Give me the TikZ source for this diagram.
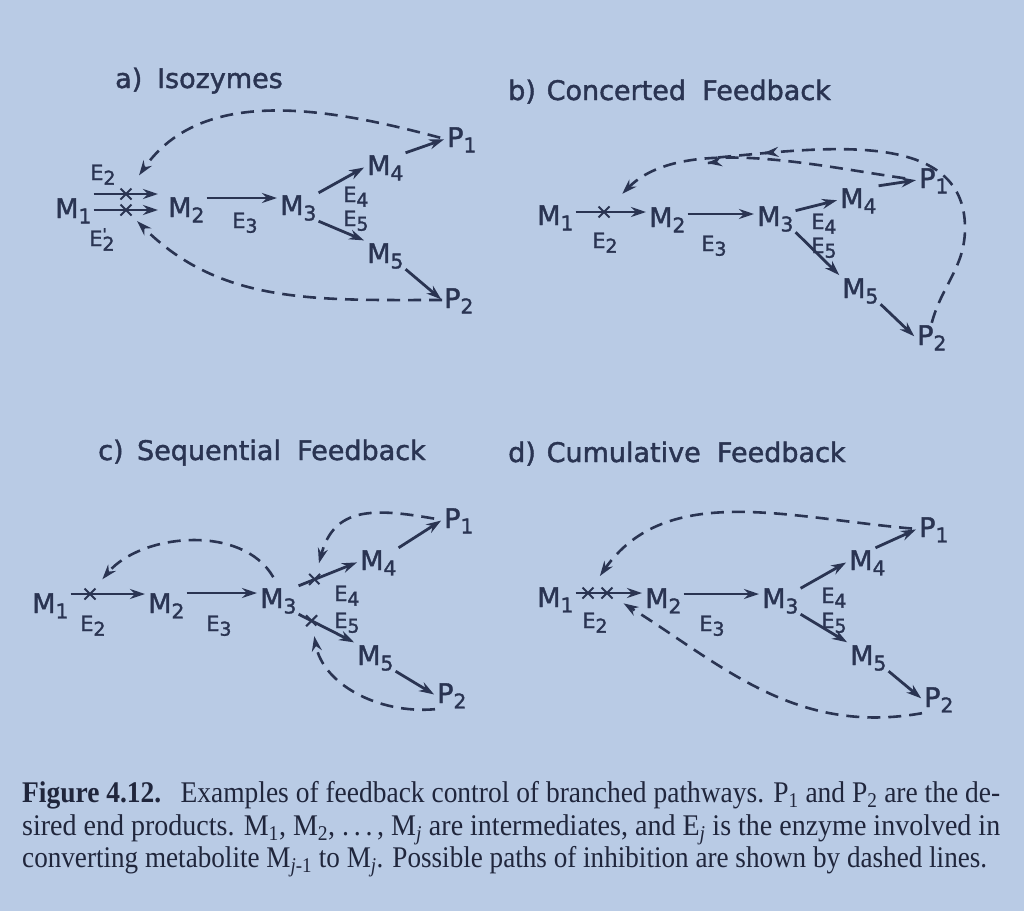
\documentclass[tikz,border=0pt]{standalone}
\usepackage{fontspec}
\usepackage{graphicx}
\setmainfont{Liberation Serif}
\newfontfamily\lbl[FakeBold=1.6]{DejaVu Sans}
\usetikzlibrary{arrows.meta,shapes.misc,decorations.markings}
\definecolor{paper}{RGB}{185,203,229}
\definecolor{ink}{RGB}{42,52,82}
\definecolor{capink}{RGB}{32,38,60}
\newcommand\lo[1]{\raisebox{-.2em}{\scalebox{.75}{#1}}}
\newcommand\elo[1]{\raisebox{-.22em}{\scalebox{.9}{#1}}}
\begin{document}
\begin{tikzpicture}[x=1pt,y=1pt,every node/.style={text=ink},
	met/.style={font=\lbl\fontsize{27}{27}\selectfont,inner sep=2pt,text height=20pt,text depth=4pt,anchor=base west},
	enz/.style={font=\lbl\fontsize{21}{21}\selectfont,inner sep=0pt,anchor=base west},
	ttl/.style={font=\lbl\fontsize{27}{27}\selectfont,inner sep=0pt,anchor=base west},
	captxt/.style={font=\fontsize{30}{30}\selectfont,text=capink,inner sep=0pt,anchor=base west},
	arr/.style={draw=ink,line width=2.8pt,-{Stealth[length=15pt,width=10pt]},shorten >=1pt},
	fb/.style={draw=ink,line width=2.6pt,dash pattern=on 13pt off 8pt,-{Stealth[length=15pt,width=10pt]}},
	xm/.style={cross out,draw=ink,line width=2pt,minimum size=9pt,inner sep=0pt},
	midarr/.style={postaction={decorate},decoration={markings,mark=at position #1 with {\draw[ink,solid,line width=2.6pt,shorten >=0pt,shorten <=0pt,-{Stealth[length=15pt,width=10pt]}] (-1pt,0) -- (0pt,0);}}}]
\fill[paper] (0,0) rectangle (1024,-911);
\useasboundingbox (0,0) rectangle (1024,-911);

% a) isozymes
\node[ttl] (aT) at (115,-88) {a)\hspace{.55em}Isozymes};
\node[met] (aM1) at (53,-218) {M\lo{1}};
\node[met] (aM2) at (166,-217) {M\lo{2}};
\node[met] (aM3) at (278,-215) {M\lo{3}};
\node[met] (aM4) at (365,-175) {M\lo{4}};
\node[met] (aM5) at (365,-263) {M\lo{5}};
\node[met] (aP1) at (445,-147) {P\lo{1}};
\node[met] (aP2) at (442,-308) {P\lo{2}};
\node[enz] (aE2) at (90,-180) {E\elo{2}};
\node[enz] (aE2b) at (89,-246) {E\rlap{\raisebox{.3em}{\scalebox{.75}{\textquotesingle}}}\elo{2}};
\node[enz] (aE3) at (232,-228) {E\elo{3}};
\node[enz] (aE4) at (343,-202) {E\elo{4}};
\node[enz] (aE5) at (343,-226) {E\elo{5}};
\node[xm] (aX1) at (126,-194) {};
\node[xm] (aX2) at (126,-210) {};
\draw[arr,shorten >=8pt] (aM1.east |- aX1) -- (aM2.west |- aX1);
\draw[arr,shorten >=8pt] (aM1.east |- aX2) -- (aM2.west |- aX2);
\draw[arr] ([yshift=11pt]aM2.east) -- ([yshift=11pt]aM2.east -| aM3.west);
\draw[arr] (aM3.north east) -- (aM4.west);
\draw[arr] (aM3.south east) -- (aM5.north west);
\draw[arr] (aM4.north east) -- (aP1.west);
\draw[arr] (aM5.south east) -- (aP2.west);
\draw[fb,shorten <=5pt,shorten >=16pt] (aP1.west) to[out=165,in=55] (aX1);
\draw[fb,shorten >=8pt] (aP2.west) to[out=180,in=-45] (aX2);

% b) concerted
\node[ttl] (bT) at (508,-100) {b)\hspace{.4em}Concerted\hspace{.6em}Feedback};
\node[met] (bM1) at (535,-225) {M\lo{1}};
\node[met] (bM2) at (647,-227) {M\lo{2}};
\node[met] (bM3) at (755,-226) {M\lo{3}};
\node[met] (bM4) at (838,-208) {M\lo{4}};
\node[met] (bM5) at (840,-298) {M\lo{5}};
\node[met] (bP1) at (917,-188) {P\lo{1}};
\node[met] (bP2) at (915,-345) {P\lo{2}};
\node[enz] (bE2) at (592,-248) {E\elo{2}};
\node[enz] (bE3) at (701,-251) {E\elo{3}};
\node[enz] (bE4) at (811,-229) {E\elo{4}};
\node[enz] (bE5) at (811,-253) {E\elo{5}};
\node[xm] (bX) at (604,-212) {};
\coordinate (bC) at (965,-228);
\coordinate (bJ) at (712,-158);
\draw[arr] (bM1.east |- bX) -- (bM2.west |- bX);
\draw[arr] ([yshift=5pt]bM2.east) -- ([yshift=5pt]bM2.east -| bM3.west);
\draw[arr] (bM3.20) -- (bM4.west);
\draw[arr] (bM3.south east) -- (bM5.north west);
\draw[arr] (bM4.north east) -- (bP1.west);
\draw[arr] (bM5.south east) -- (bP2.west);
\draw[fb,midarr=.66,shorten <=12pt,shorten >=18pt] (bP1.west) to[out=172,in=45,looseness=.85] (bX);
\draw[fb,-,midarr=.87] (bP2.north) to[out=75,in=-90] (bC) to[out=90,in=5] (bJ);

% c) sequential
\node[ttl] (cT) at (98,-460) {c)\hspace{.5em}Sequential\hspace{.6em}Feedback};
\node[met] (cM1) at (30,-613) {M\lo{1}};
\node[met] (cM2) at (146,-613) {M\lo{2}};
\node[met] (cM3) at (258,-608) {M\lo{3}};
\node[met] (cM4) at (358,-570) {M\lo{4}};
\node[met] (cM5) at (355,-665) {M\lo{5}};
\node[met] (cP1) at (442,-528) {P\lo{1}};
\node[met] (cP2) at (435,-703) {P\lo{2}};
\node[enz] (cE2) at (80,-631) {E\elo{2}};
\node[enz] (cE3) at (206,-631) {E\elo{3}};
\node[enz] (cE4) at (334,-601) {E\elo{4}};
\node[enz] (cE5) at (334,-628) {E\elo{5}};
\node[xm] (cX1) at (90,-594) {};
\draw[arr] (cM1.east |- cX1) -- (cM2.west |- cX1);
\draw[arr] ([yshift=12pt]cM2.east) -- ([yshift=12pt]cM2.east -| cM3.west);
\draw[arr] (cM3.north east) -- node[xm,pos=.27] (cX2) {} (cM4.west);
\draw[arr] (cM3.south east) -- node[xm,pos=.23] (cX3) {} (cM5.north west);
\draw[arr] (cM4.north east) -- (cP1.west);
\draw[arr] (cM5.south east) -- (cP2.west);
\draw[fb,shorten <=10pt,shorten >=12pt] (cM3.north) to[out=120,in=50] (cX1);
\draw[fb,shorten <=8pt,shorten >=11pt] (cP1.west) to[out=170,in=75,looseness=1.3] (cX2);
\draw[fb,shorten >=10pt] (cP2.south west) to[out=185,in=-80] (cX3);

% d) cumulative
\node[ttl] (dT) at (508,-462) {d)\hspace{.4em}Cumulative\hspace{.6em}Feedback};
\node[met] (dM1) at (535,-607) {M\lo{1}};
\node[met] (dM2) at (643,-608) {M\lo{2}};
\node[met] (dM3) at (760,-608) {M\lo{3}};
\node[met] (dM4) at (847,-570) {M\lo{4}};
\node[met] (dM5) at (848,-665) {M\lo{5}};
\node[met] (dP1) at (917,-537) {P\lo{1}};
\node[met] (dP2) at (922,-707) {P\lo{2}};
\node[enz] (dE2) at (582,-628) {E\elo{2}};
\node[enz] (dE3) at (699,-631) {E\elo{3}};
\node[enz] (dE4) at (821,-603) {E\elo{4}};
\node[enz] (dE5) at (821,-628) {E\elo{5}};
\node[xm] (dX1) at (588,-593) {};
\node[xm] (dX2) at (607,-593) {};
\draw[arr] (dM1.east |- dX1) -- (dM2.west |- dX1);
\draw[arr] ([yshift=6pt]dM2.east) -- ([yshift=6pt]dM2.east -| dM3.west);
\draw[arr] (dM3.30) -- (dM4.west);
\draw[arr] (dM3.south east) -- (dM5.north west);
\draw[arr] (dM4.60) -- (dP1.west);
\draw[arr] (dM5.south east) -- (dP2.west);
\draw[fb,shorten <=5pt,shorten >=14pt] (dP1.west) to[out=175,in=55] (dX1);
\draw[fb,shorten >=13pt] (dP2.south west) to[out=190,in=-32] (dX2);

% caption
\node[captxt] (cap1) at (22,-802) {\resizebox{978pt}{\height}{\textbf{Figure 4.12.}\hspace{.7em}Examples of feedback control of branched pathways. P\textsubscript{1} and P\textsubscript{2} are the de-}};
\node[captxt] (cap2) at (22,-835) {\resizebox{978pt}{\height}{sired end products. M\textsubscript{1}, M\textsubscript{2}, .\,.\,.\,, M\textsubscript{\textit{j}} are intermediates, and E\textsubscript{\textit{j}} is the enzyme involved in}};
\node[captxt] (cap3) at (22,-867) {\resizebox{965pt}{\height}{converting metabolite M\textsubscript{\textit{j}-1} to M\textsubscript{\textit{j}}. Possible paths of inhibition are shown by dashed lines.}};
\end{tikzpicture}
\end{document}
